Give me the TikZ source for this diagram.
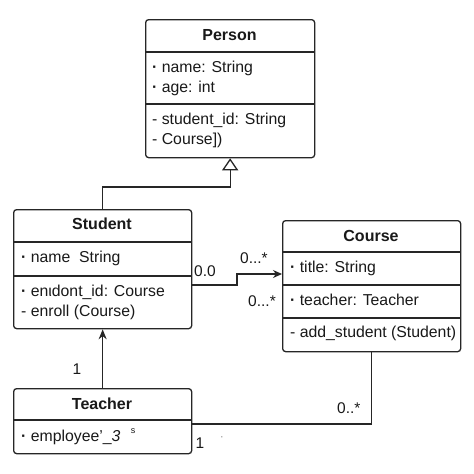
\documentclass[tikz,border=0pt]{standalone}
\usepackage{fontspec}
\setmainfont{Liberation Sans}
\usetikzlibrary{arrows.meta}
\newcommand{\bul}{\textbf{·}}
\begin{document}
\begin{tikzpicture}[x=1pt,y=-1pt,
  box/.style={draw=black!85,line width=1.3pt,rounded corners=3pt,anchor=north west,inner sep=0},
  divider/.style={draw=black!85,line width=1.3pt},
  conn/.style={draw=black!85,line width=1.3pt},
  ttl/.style={font=\fontsize{16}{19}\selectfont\bfseries,text=black!90,inner sep=0},
  attr/.style={font=\fontsize{15.8}{18}\selectfont,text=black!90,anchor=west,inner sep=0},
  lbl/.style={font=\fontsize{15.5}{18}\selectfont,text=black!90,inner sep=0}]
\useasboundingbox[fill=white] (0,0) rectangle (474,474);
% Person
\node[box,minimum width=169pt,minimum height=138pt] (person) at (145,19) {};
\draw[divider] (145,52) -- (314,52);
\draw[divider] (145,104) -- (314,104);
\node[ttl] (ptitle) at (229.5,35) {Person};
\node[attr] (pa1) at (152,68) {\bul\ name: String};
\node[attr] (pa2) at (152,88) {\bul\ age: int};
\node[attr] (pm1) at (152,120) {- student\_id: String};
\node[attr] (pm2) at (152,140) {- Course])};
% Student
\node[box,minimum width=178pt,minimum height=119pt] (student) at (13,209) {};
\draw[divider] (13,242) -- (191,242);
\draw[divider] (13,276) -- (191,276);
\node[ttl] (stitle) at (102,224) {Student};
\node[attr] (sa1) at (21,258) {\bul\ name\ \ String};
\node[attr] (sm1) at (21,292) {\bul\ enιdont\_id: Course};
\node[attr] (sm2) at (21,312) {- enroll (Course)};
% Course
\node[box,minimum width=178pt,minimum height=131pt] (course) at (282,220) {};
\draw[divider] (282,252) -- (460,252);
\draw[divider] (282,285) -- (460,285);
\draw[divider] (282,318) -- (460,318);
\node[ttl] (ctitle) at (371,236) {Course};
\node[attr] (ca1) at (290,268) {\bul\ title: String};
\node[attr] (ca2) at (290,300) {\bul\ teacher: Teacher};
\node[attr] (cm1) at (290,333) {- add\_student (Student)};
% Teacher
\node[box,minimum width=178pt,minimum height=65pt] (teacher) at (13,388) {};
\draw[divider] (13,420) -- (191,420);
\node[ttl] (ttitle) at (102,404) {Teacher};
\node[attr] (ta1) at (21,437) {\bul\ employee'\_{\itshape 3}};
\node[lbl,font=\fontsize{9}{10}\selectfont] (tas) at (133,431) {s};
% connectors
\coordinate (inh) at (150,187);
\draw[conn,-{Triangle[open,width=16pt,length=12pt,line width=1.3pt]}] (student.north) |- (inh) -| (person.south);
\coordinate (sc0) at (191,285);
\coordinate (sc1) at (237,285);
\coordinate (sc2) at (237,274);
\coordinate (sc3) at (282,274);
\draw[conn,-{Stealth[length=9pt,width=8pt]}] (sc0) -- (sc1) -- (sc2) -- (sc3);
\draw[conn,-{Stealth[length=10pt,width=8pt]}] (teacher.north) -- (student.south);
\coordinate (tc0) at (191,424);
\draw[conn] (tc0) -| (course.south);
% labels
\node[lbl,anchor=west] (l00) at (194,271) {0.0};
\node[lbl,anchor=west] (l01) at (240,258) {0...*};
\node[lbl,anchor=east] (l02) at (276,301) {0...*};
\node[lbl] (l1) at (77,369) {1};
\node[lbl,anchor=west] (l03) at (337,408) {0..*};
\node[lbl] (l2) at (200,443) {1};
\node[lbl,font=\fontsize{8}{9}\selectfont] (ld) at (222,438) {·};
\end{tikzpicture}
\end{document}
